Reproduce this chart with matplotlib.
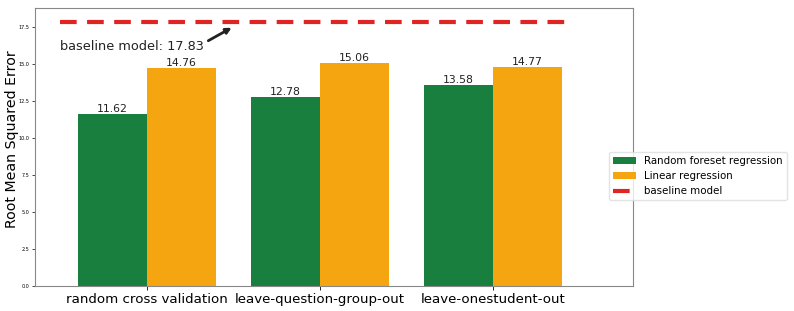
import matplotlib
matplotlib.use("Agg")
import matplotlib.pyplot as plt
import numpy as np

categories = ["random cross validation", "leave-question-group-out", "leave-onestudent-out"]
rf_values = [11.62, 12.78, 13.58]
lr_values = [14.76, 15.06, 14.77]
baseline = 17.83
series_names = ["Random foreset regression", "Linear regression", "baseline model"]

green = "#187f3f"
orange = "#f5a50f"
red = "#e02424"

fig = plt.figure(figsize=(7.94, 3.11), dpi=100)
ax = fig.add_axes([35/794, 1-286/311, (633-35)/794, (286-8)/311])

x = np.arange(len(categories))
w = 0.4
b1 = ax.bar(x - w/2, rf_values, w, color=green, label=series_names[0])
b2 = ax.bar(x + w/2, lr_values, w, color=orange, label=series_names[1])
ln, = ax.plot([-0.5, 2.46], [baseline, baseline], color=red, lw=3, ls=(0, (4, 2.5)), label=series_names[2])

for bars, vals in ((b1, rf_values), (b2, lr_values)):
    for r, v in zip(bars, vals):
        ax.text(r.get_x() + r.get_width()/2, v, f"{v:.2f}", ha="center", va="bottom", fontsize=7.8, color="#222222")

ax.annotate(f"baseline model: {baseline}", xy=(0.49, 17.45), xytext=(-0.5, 16.2),
            fontsize=9.3, color="#222222", va="center", ha="left",
            arrowprops=dict(arrowstyle="-|>", color="#222222", lw=2, mutation_scale=8,
                            shrinkA=1, shrinkB=0, relpos=(1.0, 0.75)))

ax.set_xlim(-0.647, 2.81)
ax.set_ylim(0, 18.78)
ax.set_xticks(x)
ax.set_xticklabels(categories, fontsize=9.6)
ax.set_yticks(np.arange(0, 17.6, 2.5))
ax.tick_params(axis="y", labelsize=3.5, length=2, width=0.5, pad=2)
ax.tick_params(axis="x", length=3, width=0.6, pad=2)
ax.set_ylabel("Root Mean Squared Error", fontsize=10.2)
ax.yaxis.set_label_coords(-0.027, 0.53)
for s in ax.spines.values():
    s.set_color("#888888")
    s.set_linewidth(0.8)

leg = ax.legend([b1, b2, ln], series_names, loc="center left",
                bbox_to_anchor=(609/794, 1-176/311), bbox_transform=fig.transFigure,
                fontsize=7.4, frameon=True, edgecolor="#dddddd", handlelength=2.2, borderaxespad=0.0)

fig.savefig("out.png", dpi=100)
